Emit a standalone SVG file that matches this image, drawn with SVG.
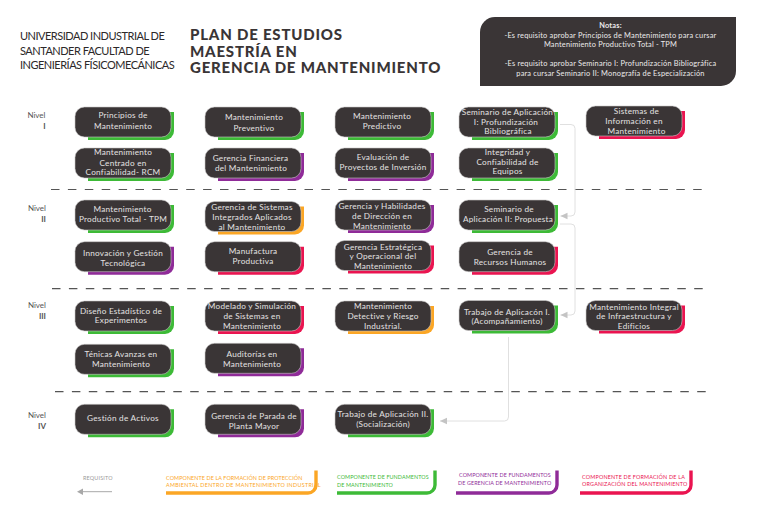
<svg xmlns="http://www.w3.org/2000/svg" width="768" height="515" viewBox="0 0 768 515">
<style>
text{font-family:"Lato","Open Sans","Liberation Sans",sans-serif}
.box{fill:#3a3536;stroke:#c9c7c8;stroke-width:.6}
.sh{stroke:none}
.green{fill:#3dba37}.purple{fill:#8f2b98}.orange{fill:#fba625}.red{fill:#ea1450}
.t{fill:#e4e2e2;font-size:8.2px;text-anchor:middle;letter-spacing:.25px}
.nv{fill:#555;font-size:8px;text-anchor:end}
.nb{font-weight:700}
.uni{fill:#2c2829;font-size:11px;letter-spacing:-.5px}
.ttl{fill:#3a3536;font-size:15px;font-weight:900;letter-spacing:.8px}
.note{fill:#ecebeb;font-size:7.4px;text-anchor:middle;letter-spacing:.2px}
.dash{fill:none;stroke:#555;stroke-width:1.2;stroke-dasharray:8.5 8.4}
.con{fill:none;stroke:#e0e0e0;stroke-width:1}
.lg{font-size:5.4px;letter-spacing:.2px}
.lgn{letter-spacing:.1px}
.lgl{fill:none;stroke-width:3.4}
</style>
<defs>
<path id="s" class="sh" d="M13 5H99V24a9 9 0 0 1-9 9H13Z"/>
<rect id="b" class="box" width="96" height="30" rx="9.5"/>
<marker id="arr" markerUnits="userSpaceOnUse" markerWidth="8" markerHeight="8" refX="7" refY="4" orient="auto"><path d="M0 0.8L7 4L0 7.2Z" fill="#c4c4c4"/></marker>
</defs>
<text class="uni"><tspan x="20" y="40">UNIVERSIDAD INDUSTRIAL DE</tspan><tspan x="20" y="54.5">SANTANDER FACULTAD DE</tspan><tspan x="20" y="68.5">INGENIERÍAS FÍSICOMECÁNICAS</tspan></text>
<text class="ttl"><tspan x="190" y="40">PLAN DE ESTUDIOS</tspan><tspan x="190" y="57">MAESTRÍA EN</tspan><tspan x="190" y="73">GERENCIA DE MANTENIMIENTO</tspan></text>
<g id="notas">
<path d="M495 17H736V71a15 15 0 0 1-15 15H480V32a15 15 0 0 1 15-15Z" fill="#3a3536"/>
<text class="note"><tspan x="610.5" y="27.5" font-weight="700">Notas:</tspan><tspan x="610.5" y="37.5">-Es requisito aprobar Principios de Mantenimiento para cursar</tspan><tspan x="610.5" y="47">Mantenimiento Productivo Total - TPM</tspan><tspan x="610.5" y="66">-Es requisito aprobar Seminario I: Profundización Bibliográfica</tspan><tspan x="610.5" y="76">para cursar Seminario II: Monografía de Especialización</tspan></text>
</g>
<g id="niveles">
<text class="nv"><tspan x="45.5" y="118">Nivel</tspan><tspan x="45.5" y="128.5" class="nb">I</tspan></text>
<text class="nv"><tspan x="46" y="211">Nivel</tspan><tspan x="46" y="222" class="nb">II</tspan></text>
<text class="nv"><tspan x="46" y="307.5">Nivel</tspan><tspan x="46" y="318.5" class="nb">III</tspan></text>
<text class="nv"><tspan x="46" y="418">Nivel</tspan><tspan x="46" y="429" class="nb">IV</tspan></text>
</g>
<g id="connectors">
<path class="dash" d="M51 189.5H708"/>
<path class="dash" d="M52 288.7H709"/>
<path class="dash" d="M55 391.7H712"/>
<path class="con" marker-end="url(#arr)" d="M560 124.5H571a4 4 0 0 1 4 4V212a4 4 0 0 1-4 4H560.5"/>
<path class="con" marker-end="url(#arr)" d="M560 224H571a4 4 0 0 1 4 4V311a4 4 0 0 1-4 4H560.5"/>
<path class="con" marker-end="url(#arr)" d="M508.5 337V417a4 4 0 0 1-4 4H440"/>
</g>
<g id="n1"><use href="#s" x="75" y="107" class="green"/><use href="#b" x="75" y="107"/><text class="t"><tspan x="123" y="117.5">Principios de</tspan><tspan x="123" y="128.5">Mantenimiento</tspan></text></g>
<g id="n2"><use href="#s" x="205" y="107" class="green"/><use href="#b" x="205" y="107"/><text class="t"><tspan x="254" y="120">Mantenimiento</tspan><tspan x="254" y="130.5">Preventivo</tspan></text></g>
<g id="n3"><use href="#s" x="335" y="107" class="green"/><use href="#b" x="335" y="107"/><text class="t"><tspan x="382" y="118.5">Mantenimiento</tspan><tspan x="382" y="129">Predictivo</tspan></text></g>
<g id="n4"><use href="#s" x="459" y="107" class="green"/><use href="#b" x="459" y="107"/><text class="t"><tspan x="507.5" y="115">Seminario de Aplicación</tspan><tspan x="506" y="124.5">I: Profundización</tspan><tspan x="508" y="134">Bibliográfica</tspan></text></g>
<g id="n5"><use href="#s" x="586" y="106" class="red"/><use href="#b" x="586" y="106"/><text class="t"><tspan x="636.5" y="114">Sistemas de</tspan><tspan x="634" y="124">Información en</tspan><tspan x="636.5" y="133.5">Mantenimiento</tspan></text></g>
<g id="n6"><use href="#s" x="75" y="148" class="green"/><use href="#b" x="75" y="148"/><text class="t"><tspan x="123" y="155">Mantenimiento</tspan><tspan x="123" y="165.5">Centrado en</tspan><tspan x="123" y="174.5">Confiabilidad- RCM</tspan></text></g>
<g id="n7"><use href="#s" x="205" y="148" class="purple"/><use href="#b" x="205" y="148"/><text class="t"><tspan x="250.5" y="160.5">Gerencia Financiera</tspan><tspan x="251" y="170.5">del Mantenimiento</tspan></text></g>
<g id="n8"><use href="#s" x="335" y="148" class="purple"/><use href="#b" x="335" y="148"/><text class="t"><tspan x="383" y="159.5">Evaluación de</tspan><tspan x="383" y="169.5">Proyectos de Inversión</tspan></text></g>
<g id="n9"><use href="#s" x="459" y="148" class="green"/><use href="#b" x="459" y="148"/><text class="t"><tspan x="507.5" y="155">Integridad y</tspan><tspan x="507.5" y="164.5">Confiabilidad de</tspan><tspan x="507.5" y="174">Equipos</tspan></text></g>
<g id="n10"><use href="#s" x="75" y="200" class="green"/><use href="#b" x="75" y="200"/><text class="t"><tspan x="122.5" y="211.5">Mantenimiento</tspan><tspan x="123" y="221.5">Productivo Total - TPM</tspan></text></g>
<g id="n11"><use href="#s" x="205" y="201.5" class="orange"/><use href="#b" x="205" y="201.5"/><text class="t"><tspan x="252" y="209.5">Gerencia de Sistemas</tspan><tspan x="252" y="219.5">Integrados Aplicados</tspan><tspan x="252" y="229.5">al Mantenimiento</tspan></text></g>
<g id="n12"><use href="#s" x="335" y="200" class="purple"/><use href="#b" x="335" y="200"/><text class="t"><tspan x="382" y="209">Gerencia y Habilidades</tspan><tspan x="382" y="218.5">de Dirección en</tspan><tspan x="382" y="228.5">Mantenimiento</tspan></text></g>
<g id="n13"><use href="#s" x="459" y="200" class="green"/><use href="#b" x="459" y="200"/><text class="t"><tspan x="509" y="212">Seminario de</tspan><tspan x="508" y="222">Aplicación II: Propuesta</tspan></text></g>
<g id="n14"><use href="#s" x="75" y="241.7" class="purple"/><use href="#b" x="75" y="241.7"/><text class="t"><tspan x="123" y="255.5">Innovación y Gestión</tspan><tspan x="123" y="265.5">Tecnológica</tspan></text></g>
<g id="n15"><use href="#s" x="205" y="241.7" class="red"/><use href="#b" x="205" y="241.7"/><text class="t"><tspan x="253" y="253.5">Manufactura</tspan><tspan x="253" y="263.5">Productiva</tspan></text></g>
<g id="n16"><use href="#s" x="335" y="240.5" class="red"/><use href="#b" x="335" y="240.5"/><text class="t"><tspan x="383" y="249.5">Gerencia Estratégica</tspan><tspan x="383" y="258.5">y Operacional del</tspan><tspan x="383" y="268.5">Mantenimiento</tspan></text></g>
<g id="n17"><use href="#s" x="459" y="241.7" class="red"/><use href="#b" x="459" y="241.7"/><text class="t"><tspan x="510" y="254.5">Gerencia de</tspan><tspan x="510" y="264.5">Recursos Humanos</tspan></text></g>
<g id="n18"><use href="#s" x="75" y="301" class="green"/><use href="#b" x="75" y="301"/><text class="t"><tspan x="121" y="314">Diseño Estadístico de</tspan><tspan x="121" y="323">Experimentos</tspan></text></g>
<g id="n19"><use href="#s" x="205" y="301" class="red"/><use href="#b" x="205" y="301"/><text class="t"><tspan x="252" y="308.5">Modelado y Simulación</tspan><tspan x="252" y="318.5">de Sistemas en</tspan><tspan x="252" y="329">Mantenimiento</tspan></text></g>
<g id="n20"><use href="#s" x="335" y="301" class="orange"/><use href="#b" x="335" y="301"/><text class="t"><tspan x="383" y="308.5">Mantenimiento</tspan><tspan x="383" y="319">Detective y Riesgo</tspan><tspan x="383" y="329">Industrial.</tspan></text></g>
<g id="n21"><use href="#s" x="459" y="300.5" class="green"/><use href="#b" x="459" y="300.5"/><text class="t"><tspan x="507" y="314.5">Trabajo de Aplicacón I.</tspan><tspan x="507" y="324">(Acompañamiento)</tspan></text></g>
<g id="n22"><use href="#s" x="586" y="300.5" class="red"/><use href="#b" x="586" y="300.5"/><text class="t"><tspan x="634" y="309.5">Mantenimiento Integral</tspan><tspan x="634" y="319">de Infraestructura y</tspan><tspan x="634" y="329">Edificios</tspan></text></g>
<g id="n23"><use href="#s" x="75" y="344.3" class="green"/><use href="#b" x="75" y="344.3"/><text class="t"><tspan x="121" y="357">Ténicas Avanzas en</tspan><tspan x="121" y="367">Mantenimiento</tspan></text></g>
<g id="n24"><use href="#s" x="205" y="343.3" class="purple"/><use href="#b" x="205" y="343.3"/><text class="t"><tspan x="252" y="357">Auditorías en</tspan><tspan x="252" y="367">Mantenimiento</tspan></text></g>
<g id="n25"><use href="#s" x="75" y="404.3" class="green"/><use href="#b" x="75" y="404.3"/><text class="t"><tspan x="123" y="421">Gestión de Activos</tspan></text></g>
<g id="n26"><use href="#s" x="205" y="404.3" class="purple"/><use href="#b" x="205" y="404.3"/><text class="t"><tspan x="254" y="419">Gerencia de Parada de</tspan><tspan x="254" y="429">Planta Mayor</tspan></text></g>
<g id="n27"><use href="#s" x="335" y="404.3" class="green"/><use href="#b" x="335" y="404.3"/><text class="t"><tspan x="383" y="417">Trabajo de Aplicación II.</tspan><tspan x="383" y="427">(Socialización)</tspan></text></g>
<g id="leyenda">
<text class="lg" fill="#9a9a9a" x="83" y="479.5">REQUISITO</text>
<path d="M112 491.7H81" stroke="#a8a8a8" stroke-width="1" fill="none"/><path d="M77 491.7L83 488.5V495Z" fill="#a8a8a8"/>
<text class="lg lgn" fill="#fba625"><tspan x="166" y="479.5">COMPONENTE DE LA FORMACIÓN DE PROTECCIÓN</tspan><tspan x="166" y="486.5" letter-spacing=".3">AMBIENTAL DENTRO DE MANTENIMIENTO INDUSTRIAL</tspan></text>
<path class="lgl" stroke="#fba625" d="M166 493H308a8 8 0 0 0 8-8V470.5"/>
<text class="lg lgn" fill="#3dba37"><tspan x="337" y="479">COMPONENTE DE FUNDAMENTOS</tspan><tspan x="337" y="486.5">DE MANTENIMIENTO</tspan></text>
<path class="lgl" stroke="#3dba37" d="M337 493H427a8 8 0 0 0 8-8V470.5"/>
<text class="lg lgn" fill="#8f2b98"><tspan x="459" y="477">COMPONENTE DE FUNDAMENTOS</tspan><tspan x="458" y="484.5">DE GERENCIA DE MANTENIMIENTO</tspan></text>
<path class="lgl" stroke="#8f2b98" d="M456 493H549a8 8 0 0 0 8-8V470.5"/>
<text class="lg" fill="#ea1450"><tspan x="582" y="479">COMPONENTE DE FORMACIÓN DE LA</tspan><tspan x="582" y="486">ORGANIZACIÓN DEL MANTENIMIENTO</tspan></text>
<path class="lgl" stroke="#ea1450" d="M580 493H683a8 8 0 0 0 8-8V470.5"/>
</g>
</svg>
